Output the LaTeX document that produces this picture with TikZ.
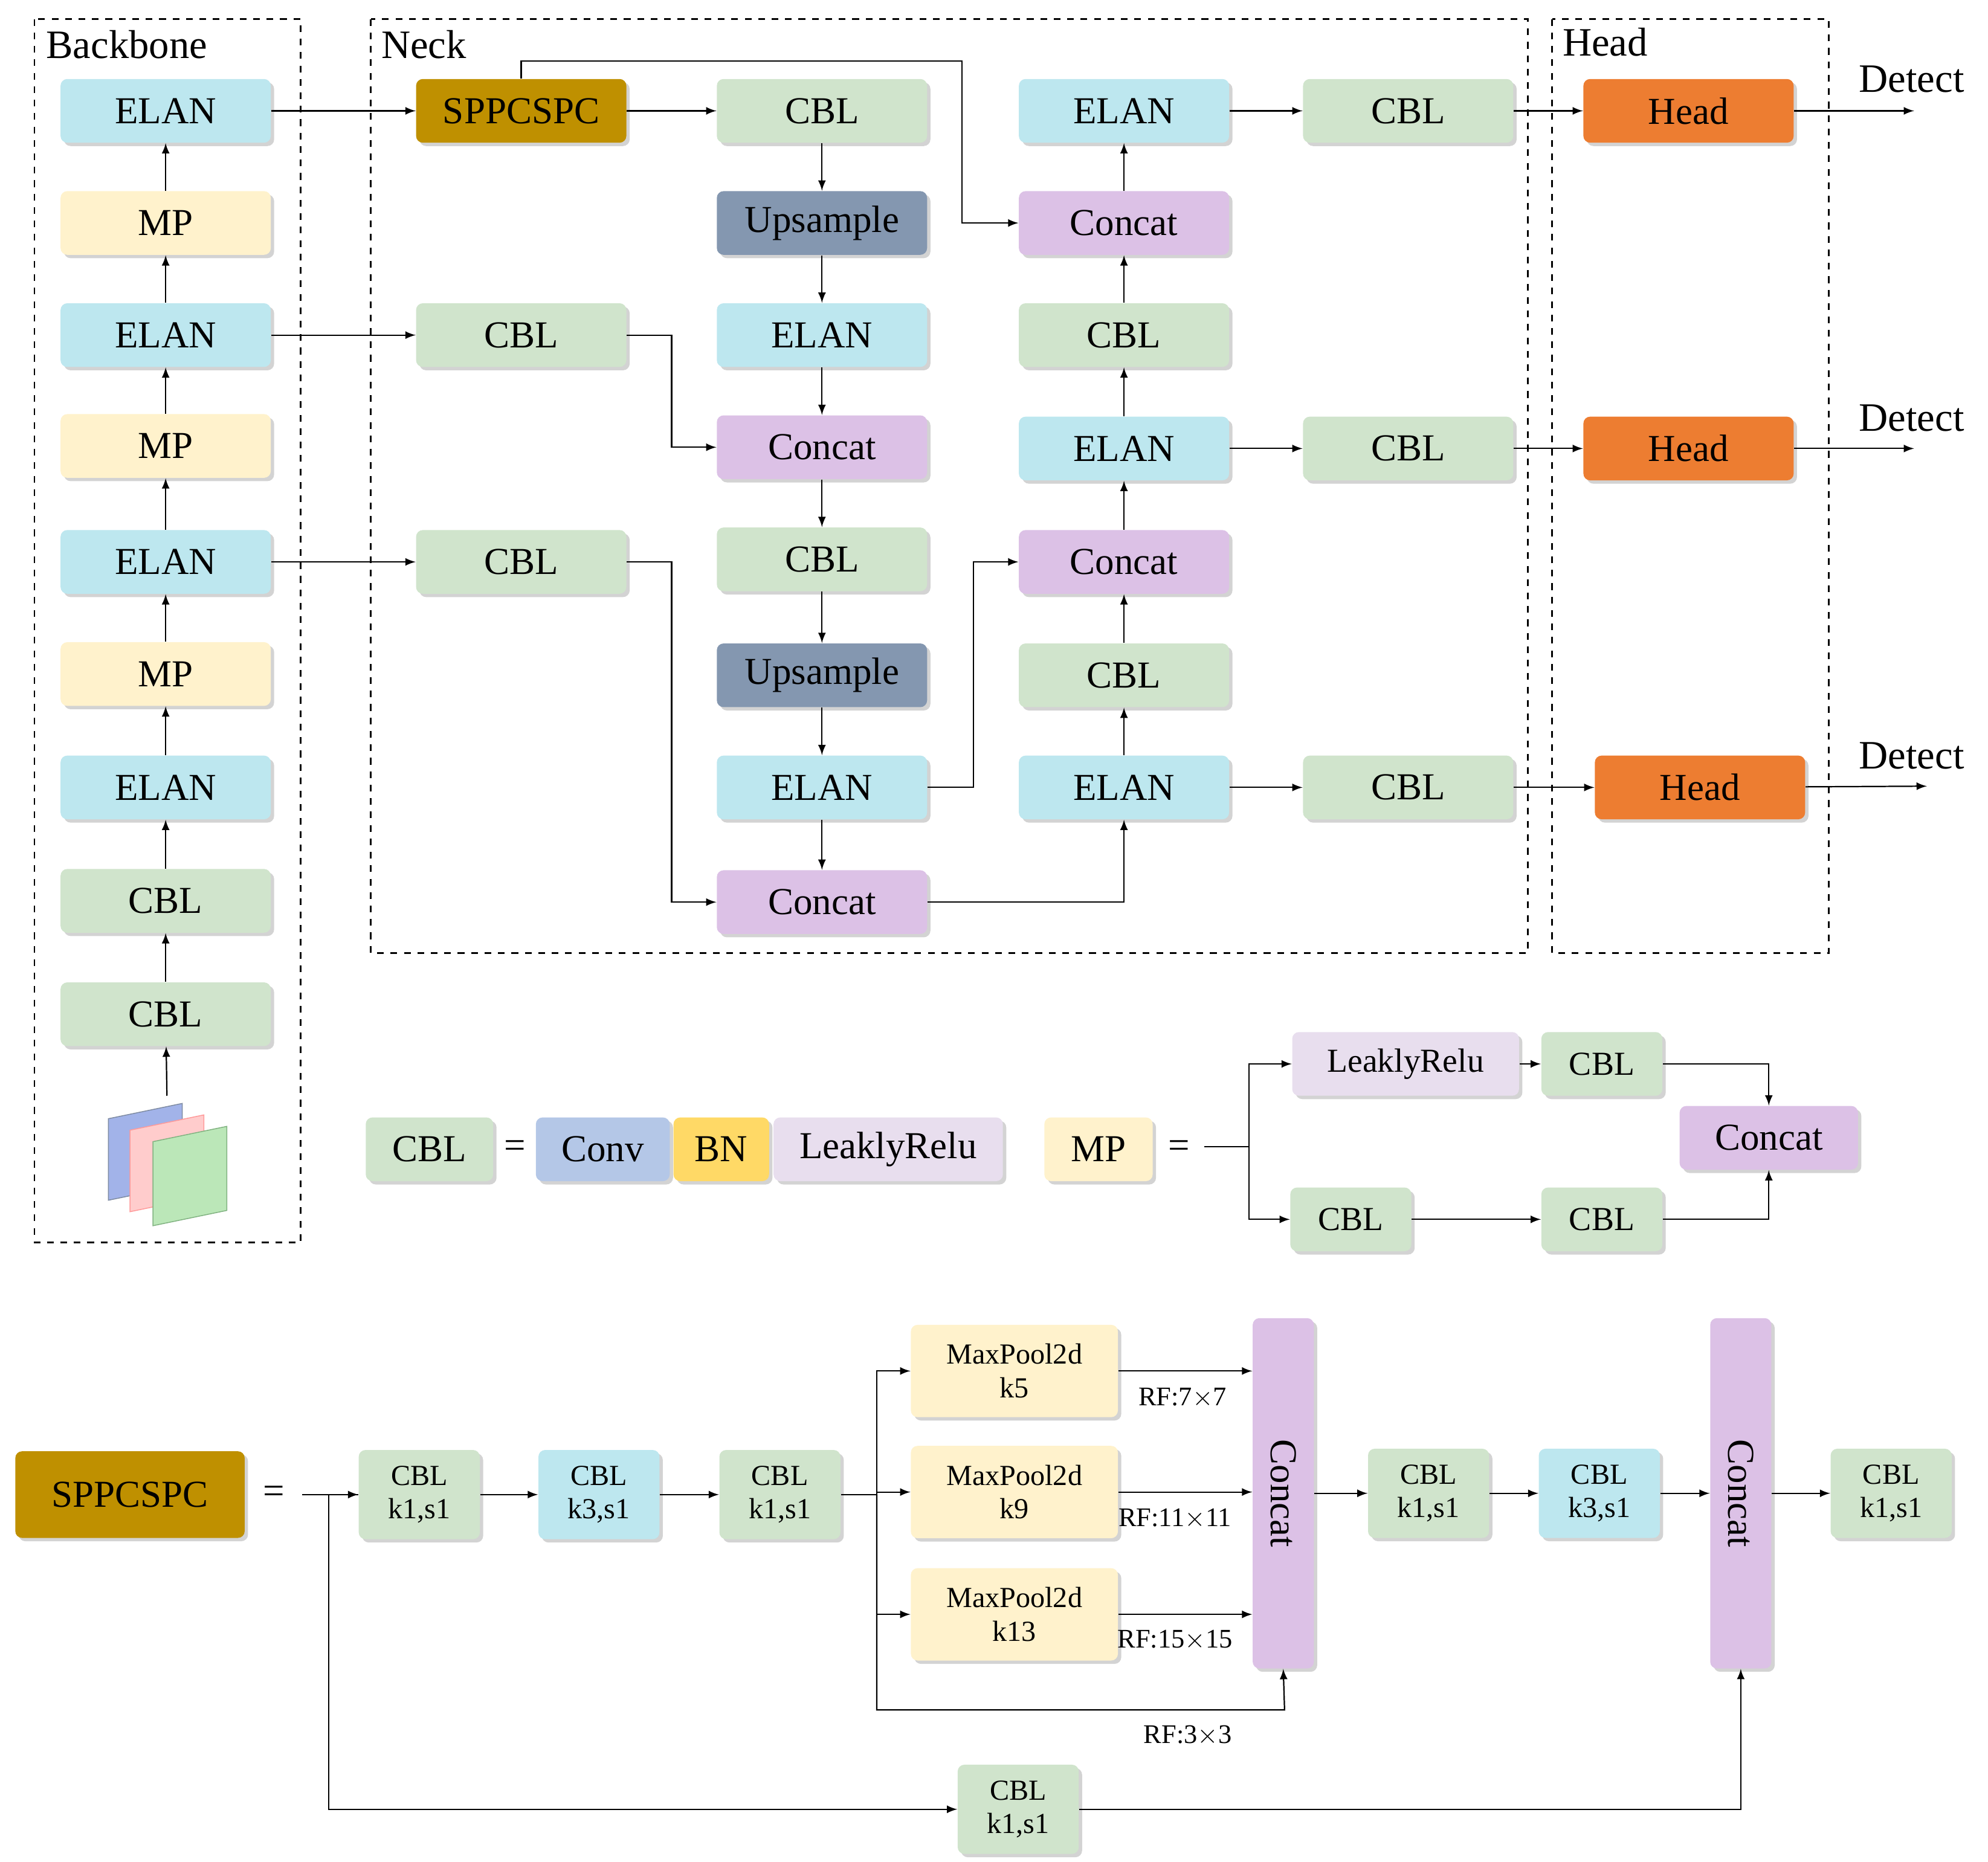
\documentclass[tikz,border=0pt]{standalone}
\usepackage{fontspec}
\setmainfont{Liberation Serif}
\usetikzlibrary{shadows,calc}
\definecolor{elan}{HTML}{BDE7EF}
\definecolor{mp}{HTML}{FFF2CC}
\definecolor{cbl}{HTML}{D0E4CC}
\definecolor{spp}{HTML}{BF9000}
\definecolor{ups}{HTML}{8497B0}
\definecolor{cat}{HTML}{DCC1E6}
\definecolor{hd}{HTML}{ED7D31}
\definecolor{conv}{HTML}{B4C7E7}
\definecolor{bn}{HTML}{FFD966}
\definecolor{lrelu}{HTML}{E8DEEE}
\tikzset{
  box/.style={rounded corners=3pt, inner sep=1pt, minimum width=3.3cm, minimum height=1cm,
    drop shadow={opacity=0.35, shadow xshift=1.5pt, shadow yshift=-1.5pt},
    font=\fontsize{17}{20}\selectfont},
  sbox/.style={box, minimum width=1.9cm, minimum height=1.4cm, align=center,
    font=\fontsize{13}{15}\selectfont},
  mbox/.style={sbox, minimum width=3.25cm, minimum height=1.45cm},
  arr/.style={->, >=latex, line width=0.6pt},
  ln/.style={line width=0.6pt},
  frame/.style={dashed, line width=0.7pt},
  ttl/.style={font=\fontsize{18}{20}\selectfont, anchor=west},
  rf/.style={font=\fontsize{12}{14}\selectfont},
}
\begin{document}
\begin{tikzpicture}[x=0.02cm, y=-0.02cm]
\path[use as bounding box] (0,0) rectangle (1560,1461);
% frames
\draw[frame] (27,15) rectangle (236,975);
\draw[frame] (291,15) rectangle (1199,748);
\draw[frame] (1218,15) rectangle (1435,748);
\node[ttl] (tb) at (30,35) {Backbone};
\node[ttl] (tn) at (293,35) {Neck};
\node[ttl] (th) at (1220,33) {Head};
% backbone
\node[box, fill=elan] (b1) at (130,87) {ELAN};
\node[box, fill=mp] (b2) at (130,175) {MP};
\node[box, fill=elan] (b3) at (130,263) {ELAN};
\node[box, fill=mp] (b4) at (130,350) {MP};
\node[box, fill=elan] (b5) at (130,441) {ELAN};
\node[box, fill=mp] (b6) at (130,529) {MP};
\node[box, fill=elan] (b7) at (130,618) {ELAN};
\node[box, fill=cbl] (b8) at (130,707) {CBL};
\node[box, fill=cbl] (b9) at (130,796) {CBL};
\coordinate (img) at (131,860);
\fill[conv!90!blue, draw=conv!70!black, line width=0.4pt] (85,878) -- (143,866) -- (143,930) -- (85,942) -- cycle;
\fill[red!20, draw=red!40, line width=0.4pt] (102,887) -- (160,875) -- (160,939) -- (102,951) -- cycle;
\fill[cbl!90!green, draw=green!40!black!50, line width=0.4pt] (120,896) -- (178,884) -- (178,950) -- (120,962) -- cycle;
\draw[arr] (img) -- (b9);
\foreach \a/\b in {b9/b8,b8/b7,b7/b6,b6/b5,b5/b4,b4/b3,b3/b2,b2/b1} \draw[arr] (\a) -- (\b);
% neck col1
\node[box, fill=spp] (spp) at (409,87) {SPPCSPC};
\node[box, fill=cbl] (n1) at (409,263) {CBL};
\node[box, fill=cbl] (n2) at (409,441) {CBL};
% col2
\node[box, fill=cbl] (c1) at (645,87) {CBL};
\node[box, fill=ups] (c2) at (645,175) {Upsample};
\node[box, fill=elan] (c3) at (645,263) {ELAN};
\node[box, fill=cat] (c4) at (645,351) {Concat};
\node[box, fill=cbl] (c5) at (645,439) {CBL};
\node[box, fill=ups] (c6) at (645,530) {Upsample};
\node[box, fill=elan] (c7) at (645,618) {ELAN};
\node[box, fill=cat] (c8) at (645,708) {Concat};
% col3
\node[box, fill=elan] (d1) at (882,87) {ELAN};
\node[box, fill=cat] (d2) at (882,175) {Concat};
\node[box, fill=cbl] (d3) at (882,263) {CBL};
\node[box, fill=elan] (d4) at (882,352) {ELAN};
\node[box, fill=cat] (d5) at (882,441) {Concat};
\node[box, fill=cbl] (d6) at (882,530) {CBL};
\node[box, fill=elan] (d7) at (882,618) {ELAN};
% col4
\node[box, fill=cbl] (e1) at (1105,87) {CBL};
\node[box, fill=cbl] (e2) at (1105,352) {CBL};
\node[box, fill=cbl] (e3) at (1105,618) {CBL};
% heads
\node[box, fill=hd] (h1) at (1325,87) {Head};
\node[box, fill=hd] (h2) at (1325,352) {Head};
\node[box, fill=hd] (h3) at (1334,618) {Head};
\coordinate (o1) at (1502,87);
\coordinate (o2) at (1502,352);
\coordinate (o3) at (1512,617);
\node[font=\fontsize{18}{20}\selectfont] (t1) at (1500,62) {Detect};
\node[font=\fontsize{18}{20}\selectfont] (t2) at (1500,328) {Detect};
\node[font=\fontsize{18}{20}\selectfont] (t3) at (1500,593) {Detect};
% neck edges
\draw[arr] (b1) -- (spp);
\draw[arr] (b3) -- (n1);
\draw[arr] (b5) -- (n2);
\draw[arr] (spp) -- (c1);
\draw[arr] (spp.north) |- (755,48) |- (d2.west);
\foreach \a/\b in {c1/c2,c2/c3,c3/c4,c4/c5,c5/c6,c6/c7,c7/c8} \draw[arr] (\a) -- (\b);
\draw[arr] (n1.east) -| (527,351) -- (c4.west);
\draw[arr] (n2.east) -| (527,708) -- (c8.west);
\draw[arr] (c7.east) -| (764,441) -- (d5.west);
\draw[arr] (c8.east) -| (d7.south);
\foreach \a/\b in {d7/d6,d6/d5,d5/d4,d4/d3,d3/d2,d2/d1} \draw[arr] (\a) -- (\b);
\draw[arr] (d1) -- (e1);
\draw[arr] (d4) -- (e2);
\draw[arr] (d7) -- (e3);
\draw[arr] (e1) -- (h1);
\draw[arr] (e2) -- (h2);
\draw[arr] (e3) -- (h3);
\draw[arr] (h1) -- (o1);
\draw[arr] (h2) -- (o2);
\draw[arr] (h3) -- (o3);
% legend CBL
\node[box, fill=cbl, minimum width=2cm] (lc) at (337,902) {CBL};
\node[font=\fontsize{17}{20}\selectfont] (eq1) at (404,902) {=};
\node[box, fill=conv, minimum width=2.1cm] (lv) at (473,902) {Conv};
\node[box, fill=bn, minimum width=1.5cm] (lb) at (566,902) {BN};
\node[box, fill=lrelu, minimum width=3.6cm] (ll) at (697,902) {LeaklyRelu};
% legend MP
\node[box, fill=mp, minimum width=1.7cm] (lm) at (862,902) {MP};
\node[font=\fontsize{17}{20}\selectfont] (eq2) at (925,902) {=};
\node[box, fill=lrelu, minimum width=3.56cm, font=\fontsize{15}{18}\selectfont] (mr) at (1103,835) {LeaklyRelu};
\node[box, fill=cbl, minimum width=1.9cm, font=\fontsize{15}{18}\selectfont] (m1) at (1257,835) {CBL};
\node[box, fill=cat, minimum width=2.8cm] (mc) at (1388,893) {Concat};
\node[box, fill=cbl, minimum width=1.9cm, font=\fontsize{15}{18}\selectfont] (m2) at (1060,957) {CBL};
\node[box, fill=cbl, minimum width=1.9cm, font=\fontsize{15}{18}\selectfont] (m3) at (1257,957) {CBL};
\coordinate (ms) at (945,900);
\draw[ln] (ms) -- (980,900);
\draw[arr] (980,900) |- (mr.west);
\draw[arr] (980,900) |- (m2.west);
\draw[arr] (mr) -- (m1);
\draw[arr] (m2) -- (m3);
\draw[arr] (m1.east) -| (mc.north);
\draw[arr] (m3.east) -| (mc.south);
% SPPCSPC
\node[box, fill=spp, minimum width=3.6cm, minimum height=1.36cm] (sp) at (102,1173) {SPPCSPC};
\node[font=\fontsize{17}{20}\selectfont] (eq3) at (215,1173) {=};
\coordinate (ss) at (237,1173);
\node[sbox, fill=cbl] (s1) at (329,1173) {CBL\\k1,s1};
\node[sbox, fill=elan] (s2) at (470,1173) {CBL\\k3,s1};
\node[sbox, fill=cbl] (s3) at (612,1173) {CBL\\k1,s1};
\node[mbox, fill=mp] (p1) at (796,1076) {MaxPool2d\\k5};
\node[mbox, fill=mp] (p2) at (796,1171) {MaxPool2d\\k9};
\node[mbox, fill=mp] (p3) at (796,1267) {MaxPool2d\\k13};
\node[box, fill=cat, minimum width=0.96cm, minimum height=5.5cm] (k1) at (1007,1172) {};
\node[rotate=-90, font=\fontsize{17}{20}\selectfont] (k1t) at (k1) {Concat};
\node[sbox, fill=cbl] (s4) at (1121,1172) {CBL\\k1,s1};
\node[sbox, fill=elan] (s5) at (1255,1172) {CBL\\k3,s1};
\node[box, fill=cat, minimum width=0.96cm, minimum height=5.5cm] (k2) at (1366,1172) {};
\node[rotate=-90, font=\fontsize{17}{20}\selectfont] (k2t) at (k2) {Concat};
\node[sbox, fill=cbl] (s6) at (1484,1172) {CBL\\k1,s1};
\node[sbox, fill=cbl] (s7) at (799,1420) {CBL\\k1,s1};
\draw[ln] (ss) -- (s1.west);
\draw[arr] (ss) -- (s1);
\draw[arr] (258,1173) |- (s7.west);
\draw[arr] (s7.east) -| (k2.south);
\draw[arr] (s1) -- (s2);
\draw[arr] (s2) -- (s3);
\draw[ln] (s3.east) -- (688,1173);
\draw[arr] (688,1173) |- (p1.west);
\draw[arr] (688,1173) |- (p2.west);
\draw[arr] (688,1173) |- (p3.west);
\draw[arr] (688,1173) |- (1008,1342) -- (k1.south);
\draw[arr] (p1.east) -- (p1.east -| k1.west);
\draw[arr] (p2.east) -- (p2.east -| k1.west);
\draw[arr] (p3.east) -- (p3.east -| k1.west);
\node[rf] (r1) at (928,1097) {RF:7$\times$7};
\node[rf] (r2) at (922,1192) {RF:11$\times$11};
\node[rf] (r3) at (922,1287) {RF:15$\times$15};
\node[rf] (r4) at (932,1362) {RF:3$\times$3};
\draw[arr] (k1) -- (s4);
\draw[arr] (s4) -- (s5);
\draw[arr] (s5) -- (k2);
\draw[arr] (k2) -- (s6);
\end{tikzpicture}
\end{document}
